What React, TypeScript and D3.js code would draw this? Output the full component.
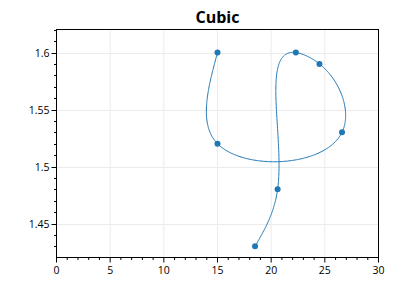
import React from "react";
import * as d3 from "d3";

const xValues = [15, 15, 26.6, 24.5, 22.3, 20.6, 18.5];
const yValues = [1.6, 1.52, 1.53, 1.59, 1.6, 1.48, 1.43];
const xTicks = [0, 5, 10, 15, 20, 25, 30];
const yTicks = [1.45, 1.5, 1.55, 1.6];
const yTickLabels = ["1.45", "1.5", "1.55", "1.6"];

function naturalSecond(t: number[], v: number[]): number[] {
  const n = t.length;
  const M = new Array(n).fill(0);
  if (n < 3) return M;
  const a: number[] = [], b: number[] = [], c: number[] = [], r: number[] = [];
  for (let i = 1; i < n - 1; i++) {
    const h0 = t[i] - t[i - 1], h1 = t[i + 1] - t[i];
    a.push(h0); b.push(2 * (h0 + h1)); c.push(h1);
    r.push(6 * ((v[i + 1] - v[i]) / h1 - (v[i] - v[i - 1]) / h0));
  }
  const m = b.length;
  for (let i = 1; i < m; i++) {
    const w = a[i] / b[i - 1];
    b[i] -= w * c[i - 1];
    r[i] -= w * r[i - 1];
  }
  const sol = new Array(m).fill(0);
  sol[m - 1] = r[m - 1] / b[m - 1];
  for (let i = m - 2; i >= 0; i--) sol[i] = (r[i] - c[i] * sol[i + 1]) / b[i];
  for (let i = 0; i < m; i++) M[i + 1] = sol[i];
  return M;
}
function evalSpline(t: number[], v: number[], M: number[], s: number): number {
  let i = 0;
  while (i < t.length - 2 && s > t[i + 1]) i++;
  const h = t[i + 1] - t[i];
  const A = t[i + 1] - s, B = s - t[i];
  return M[i] * A * A * A / (6 * h) + M[i + 1] * B * B * B / (6 * h) + (v[i] / h - M[i] * h / 6) * A + (v[i + 1] / h - M[i + 1] * h / 6) * B;
}
function paramSpline(px: number[], py: number[], steps = 500): [number, number][] {
  const t = [0];
  for (let i = 1; i < px.length; i++) t.push(t[i - 1] + Math.hypot(px[i] - px[i - 1], py[i] - py[i - 1]));
  const Mx = naturalSecond(t, px), My = naturalSecond(t, py);
  const out: [number, number][] = [];
  const T = t[t.length - 1];
  for (let k = 0; k <= steps; k++) {
    const s = (T * k) / steps;
    out.push([evalSpline(t, px, Mx, s), evalSpline(t, py, My, s)]);
  }
  return out;
}

export default function App() {
  const W = 400, H = 300;
  const L = 56.5, R = 378.5, T = 29.5, B = 257.5;
  const x = d3.scaleLinear().domain([0, 30]).range([L, R]);
  const y = d3.scaleLinear().domain([1.4202, 1.6202]).range([B, T]);
  const px = xValues.map(v => x(v)), py = yValues.map(v => y(v));
  const curve = d3.line<[number, number]>()(paramSpline(px, py)) || "";
  const xMinor = d3.range(0, 31, 1);
  const yMinor = d3.range(142, 163, 1).map(v => v / 100).filter(v => v >= 1.4202 && v <= 1.6202);
  const font = "'Open Sans', 'Noto Sans', sans-serif";
  const blue = "#1f77b4";
  return (
    <svg width={W} height={H} style={{ position: "absolute", left: 0, top: 0 }} fontFamily={font}>
      <rect width={W} height={H} fill="#fff" />
      <text x={(L + R) / 2} y={23} textAnchor="middle" fontSize={16} fontWeight="bold" fill="#000">Cubic</text>
      {xTicks.map(t => <line key={"gx" + t} x1={x(t)} x2={x(t)} y1={T} y2={B} stroke="#ebebeb" />)}
      {yTicks.map(t => <line key={"gy" + t} x1={L} x2={R} y1={Math.round(y(t)) + 0.5} y2={Math.round(y(t)) + 0.5} stroke="#ebebeb" />)}
      <path d={curve} fill="none" stroke={blue} strokeWidth={1} />
      {px.map((p, i) => <circle key={i} cx={p} cy={py[i]} r={3} fill={blue} />)}
      <rect x={L} y={T} width={R - L} height={B - T} fill="none" stroke="#000" />
      {xMinor.map(t => <line key={"xm" + t} x1={x(t)} x2={x(t)} y1={B} y2={B + (t % 5 === 0 ? 5 : 2.5)} stroke="#000" />)}
      {yMinor.map((t, i) => {
        const major = Math.round(t * 100) % 5 === 0;
        const yy = Math.round(y(t)) + 0.5;
        return <line key={"ym" + i} x1={L} x2={L - (major ? 5 : 2.5)} y1={yy} y2={yy} stroke="#000" />;
      })}
      {xTicks.map(t => <text key={"xl" + t} x={x(t)} y={274} textAnchor="middle" fontSize={10.5} fill="#000">{t}</text>)}
      {yTicks.map((t, i) => <text key={"yl" + t} x={49.5} y={Math.round(y(t)) + 4} textAnchor="end" fontSize={10.5} fill="#000">{yTickLabels[i]}</text>)}
    </svg>
  );
}
